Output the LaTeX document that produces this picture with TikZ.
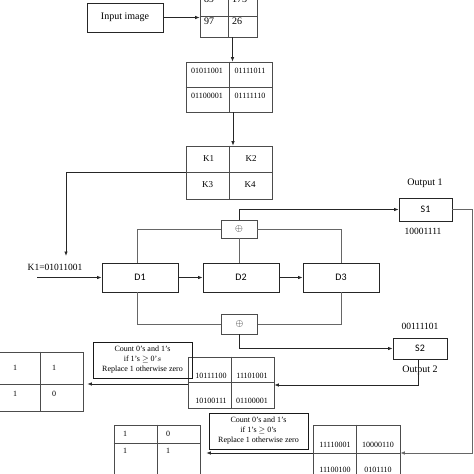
\documentclass[tikz,border=0pt]{standalone}
\usepackage{fontspec}
\setmainfont{Liberation Serif}
\newfontfamily\blockfont{Carlito}
\usetikzlibrary{arrows.meta,positioning}
\begin{document}
\begin{tikzpicture}[x=1pt,y=-1pt,
    grid/.style={draw=black!70,line width=0.6pt,inner sep=0pt},
    block/.style={draw=black!85,line width=0.8pt,inner sep=0pt,font=\blockfont\fontsize{10}{12}\selectfont},
    xorbox/.style={draw=black!70,line width=0.6pt,inner sep=0pt,minimum width=36pt,minimum height=18pt},
    countbox/.style={draw=black!90,line width=1pt,inner sep=0pt,align=center,minimum width=99pt,minimum height=36pt,font=\fontsize{8}{10}\selectfont},
    bits/.style={inner sep=0pt,font=\fontsize{8}{9}\selectfont},
    lbl/.style={inner sep=0pt,font=\fontsize{9.5}{11}\selectfont},
    arr/.style={-{Latex[length=4.5pt,width=3.5pt]},line width=0.8pt,draw=black!85},
    wire/.style={line width=0.7pt,draw=black!60}]
    \def\rail{472};
    \useasboundingbox (0,0) rectangle (474,474);
    \clip (0,0) rectangle (474,474);
    % input and pixel block
    \node[block,font=\fontsize{10}{12}\selectfont,minimum width=76pt,minimum height=29pt] (inp) at (125,17.5) {Input image};
    \node[grid,minimum width=57pt,minimum height=42pt] (pix) at (228.5,16) {};
    \draw[grid] (pix.north) -- (pix.south) (pix.west) -- (pix.east);
    \node[lbl,anchor=west,font=\fontsize{10}{12}\selectfont] (p11) at (204,-1) {89};
    \node[lbl,anchor=west,font=\fontsize{10}{12}\selectfont] (p12) at (232,-1) {173};
    \node[lbl,anchor=west,font=\fontsize{10}{12}\selectfont] (p21) at (204,21) {97};
    \node[lbl,anchor=west,font=\fontsize{10}{12}\selectfont] (p22) at (232,21) {26};
    \draw[arr] (inp.east) -- (inp.east -| pix.west);
    % binary block
    \node[grid,minimum width=86pt,minimum height=50pt] (bin) at (229,87) {};
    \draw[grid] (bin.north) -- (bin.south) (bin.west) -- (bin.east);
    \node[bits] (b11) at (207,71) {01011001};
    \node[bits] (b12) at (250,71) {01111011};
    \node[bits] (b21) at (207,96) {01100001};
    \node[bits] (b22) at (250,96) {01111110};
    \draw[arr] ([xshift=4pt]pix.south) -- ([xshift=4pt]pix.south |- bin.north);
    % key block
    \node[grid,minimum width=86pt,minimum height=53pt] (keys) at (229,172.5) {};
    \draw[grid] (keys.north) -- (keys.south) (keys.west) -- (keys.east);
    \node[bits,font=\fontsize{9}{10}\selectfont] (k11) at (208.5,159) {K1};
    \node[bits,font=\fontsize{9}{10}\selectfont] (k12) at (251,159) {K2};
    \node[bits,font=\fontsize{9}{10}\selectfont] (k21) at (207.5,185) {K3};
    \node[bits,font=\fontsize{9}{10}\selectfont] (k22) at (250,185) {K4};
    \draw[arr] ([xshift=4pt]bin.south) -- ([xshift=4pt]bin.south |- keys.north);
    \coordinate (kin) at (66,256);
    \draw[arr] (keys.west) -| (kin);
    \node[lbl] (kval) at (55,267) {K1=01011001};
    % D blocks
    \node[block,minimum width=76pt,minimum height=29pt] (d1) at (140,277.5) {D1};
    \node[block,minimum width=76pt,minimum height=29pt] (d2) at (241,277.5) {D2};
    \node[block,minimum width=76pt,minimum height=29pt] (d3) at (341,277.5) {D3};
    \coordinate (kstart) at (37,277.5);
    \draw[arr] (kstart) -- (d1.west);
    \draw[arr] (d1) -- (d2);
    \draw[arr] (d2) -- (d3);
    % xor gates
    \node[xorbox] (x1) at (239,229) {$\oplus$};
    \node[xorbox,minimum height=20pt] (x2) at (239.5,324) {$\oplus$};
    \draw[wire] ([xshift=-3pt]d1.north) |- (x1.west);
    \draw[wire] (x1.east) -| (d3.north);
    \draw[wire] (x1.south) -- (x1.south |- d2.north);
    \draw[wire] ([xshift=-3pt]d1.south) |- (x2.west);
    \draw[wire] (x2.east) -| (d3.south);
    % outputs
    \node[block,minimum width=53pt,minimum height=23pt] (s1) at (425.5,209.5) {S1};
    \node[block,minimum width=54pt,minimum height=21pt] (s2) at (420,348.5) {S2};
    \draw[arr] (x1.north) |- (s1.west);
    \draw[arr] (x2.south) |- (s2.west);
    \node[lbl,font=\fontsize{10}{12}\selectfont] (o1) at (425,183) {Output 1};
    \node[lbl] (s1val) at (423,231) {10001111};
    \node[lbl] (s2val) at (420,326) {00111101};
    \node[lbl,font=\fontsize{10}{12}\selectfont] (o2) at (420,370) {Output 2};
    % output 2 bits
    \node[grid,minimum width=86pt,minimum height=51pt] (t2) at (231,382.5) {};
    \draw[grid] (t2.north) -- (t2.south) (t2.west) -- (t2.east);
    \node[bits] (u11) at (211,376) {10111100};
    \node[bits] (u12) at (252,376) {11101001};
    \node[bits] (u21) at (211,401) {10100111};
    \node[bits] (u22) at (252,401) {01100001};
    \draw[arr] ([xshift=-2pt]s2.south) |- ([yshift=-2.5pt]t2.east);
    \node[countbox] (c2) at (142.5,360) {Count 0’s and 1’s\\ if 1’s $\geq$ 0’$s$\\ Replace 1 otherwise zero};
    \node[grid,minimum width=86pt,minimum height=59pt] (r2) at (40,381.5) {};
    \draw[grid] (r2.north) -- (r2.south) ([yshift=-2.5pt]r2.west) -- ([yshift=-2.5pt]r2.east);
    \node[bits] (v11) at (15,368) {1};
    \node[bits] (v12) at (54,368) {1};
    \node[bits] (v21) at (15,394) {1};
    \node[bits] (v22) at (54,394) {0};
    \draw[arr] ([yshift=-1.5pt]t2.west) -- ([xshift=4pt,yshift=-1.5pt]t2.west -| r2.east);
    % output 1 bits
    \node[grid,minimum width=87pt,minimum height=56pt] (t1) at (356.5,453) {};
    \draw[grid] (t1.north) -- (t1.south) (t1.west) -- (t1.east);
    \node[bits] (w11) at (335,445) {11110001};
    \node[bits] (w12) at (378,445) {10000110};
    \node[bits] (w21) at (335,470) {11100100};
    \node[bits] (w22) at (378,470) {0101110};
    \draw[arr,draw=black!60] (s1.east) -- (s1.east -| \rail,0) |- (t1.east);
    \node[countbox] (c1) at (258.5,431) {Count 0’s and 1’s\\ if 1’s $\geq$ 0’s\\ Replace 1 otherwise zero};
    \node[grid,minimum width=86pt,minimum height=56pt] (r1) at (157,453) {};
    \draw[grid] (r1.north) -- (r1.south) ([yshift=10pt]r1.west) -- ([yshift=10pt]r1.east);
    \node[bits] (y11) at (125,434) {1};
    \node[bits] (y12) at (168,434) {0};
    \node[bits] (y21) at (125,451) {1};
    \node[bits] (y22) at (168,451) {1};
    \draw[arr] (t1.west) -- ([xshift=6pt]t1.west -| r1.east);
\end{tikzpicture}
\end{document}
